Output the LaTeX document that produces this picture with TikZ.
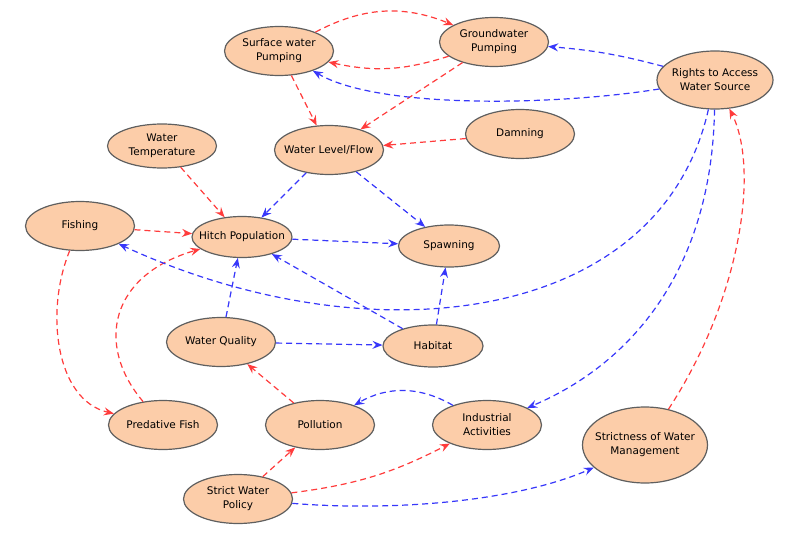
\documentclass[tikz,border=0pt]{standalone}
\usepackage{fontspec}
\setmainfont{DejaVu Sans}
\usepackage{tikz}
\usetikzlibrary{shapes.geometric,arrows.meta}

\definecolor{peach}{RGB}{252,205,169}
\definecolor{rimgray}{RGB}{95,95,95}
\definecolor{linkred}{RGB}{255,60,60}
\definecolor{linkblue}{RGB}{55,55,250}

\tikzset{
  factor/.style={ellipse, draw=rimgray, line width=1.2pt, fill=peach,
    align=center, inner xsep=-14pt, inner ysep=-4pt,
    minimum width=109pt, minimum height=49pt,
    font=\fontsize{10.5}{14}\selectfont},
  link/.style={dash pattern=on 6pt off 4pt, line width=1.2pt,
    -{Stealth[length=10pt,width=8pt,inset=3.5pt]}},
  redlink/.style={link, linkred},
  bluelink/.style={link, linkblue}
}

\begin{document}
\begin{tikzpicture}[x=1pt, y=-1pt]
  \useasboundingbox (0,0) rectangle (800,543);
  % Top row
  \node[factor] at (279, 51) (surf) {Surface water\\Pumping};
  \node[factor] at (494, 42) (ground) {Groundwater\\Pumping};
  \node[factor, minimum width=116pt, minimum height=58pt] at (715, 80) (rights) {Rights to Access\\Water Source};
  \node[factor] at (520, 134) (dam) {Damning};
  \node[factor] at (329, 150) (level) {Water Level/Flow};
  \node[factor, minimum height=44pt] at (162, 146) (temp) {Water\\Temperature};
  % Middle
  \node[factor] at (80, 226) (fish) {Fishing};
  \node[factor, minimum width=100pt, minimum height=41pt] at (242, 237) (hitch) {Hitch Population};
  \node[factor, minimum width=101pt, minimum height=42pt] at (449, 246) (spawn) {Spawning};
  \node[factor] at (221, 342) (quality) {Water Quality};
  \node[factor, minimum width=100pt, minimum height=42pt] at (433, 346) (habitat) {Habitat};
  % Bottom row
  \node[factor] at (163, 425) (pred) {Predative Fish};
  \node[factor] at (320, 425) (pollution) {Pollution};
  \node[factor] at (487, 425) (industry) {Industrial\\Activities};
  \node[factor] at (238, 499) (policy) {Strict Water\\Policy};
  \node[factor, minimum width=125pt, minimum height=76pt] at (645, 445) (strict) {Strictness of Water\\Management};
  % Red links
  \draw[redlink] (surf) to[bend left=25] (ground);
  \draw[redlink] (ground) to[bend left=15] (surf);
  \draw[redlink] (surf) -- (level);
  \draw[redlink] (ground) -- (level);
  \draw[redlink] (dam) -- (level);
  \draw[redlink] (temp) -- (hitch);
  \draw[redlink] (fish) -- (hitch);
  \draw[redlink] (fish) .. controls (45, 310) and (55, 400) .. (pred);
  \draw[redlink] (pred) .. controls (95, 345) and (110, 275) .. (hitch);
  \draw[redlink] (pollution) -- (quality);
  \draw[redlink] (policy) -- (pollution);
  \draw[redlink] (policy) to[bend right=10] (industry);
  \draw[redlink] (strict) .. controls (740, 300) and (760, 170) .. (rights);
  % Blue links
  \draw[bluelink] (rights) to[bend right=5] (ground);
  \draw[bluelink] (rights) .. controls (560, 105) and (380, 110) .. (surf);
  \draw[bluelink] (level) -- (hitch);
  \draw[bluelink] (level) -- (spawn);
  \draw[bluelink] (hitch) -- (spawn);
  \draw[bluelink] (rights) .. controls (660, 325) and (370, 360) .. (fish);
  \draw[bluelink] (rights) .. controls (712, 260) and (640, 360) .. (industry);
  \draw[bluelink] (quality) -- (hitch);
  \draw[bluelink] (quality) -- (habitat);
  \draw[bluelink] (habitat) -- (hitch);
  \draw[bluelink] (habitat) -- (spawn);
  \draw[bluelink] (industry) to[bend right=30] (pollution);
  \draw[bluelink] (policy) .. controls (400, 512) and (520, 500) .. (strict);
\end{tikzpicture}
\end{document}
